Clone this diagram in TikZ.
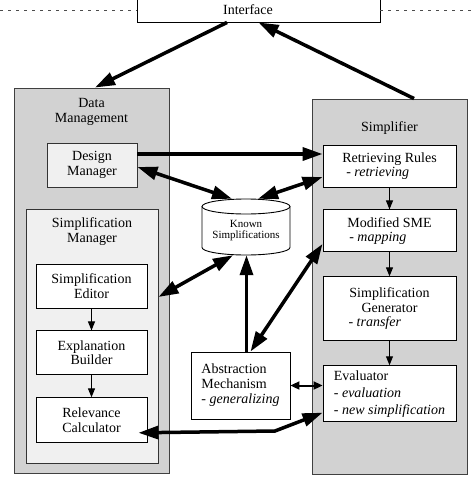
\documentclass[tikz,border=0pt]{standalone}
\usepackage{fontspec}
\setmainfont{Liberation Serif}
\usetikzlibrary{arrows.meta,positioning}

\begin{document}
\begin{tikzpicture}[x=1pt,y=-1pt,
	every node/.style={font=\fontsize{14}{14.5}\selectfont},
	bigbox/.style={draw=black!75,fill=gray!35,line width=0.9pt,inner sep=0pt},
	midbox/.style={draw=black!80,fill=gray!12,line width=0.9pt,inner sep=0pt},
	box/.style={draw,fill=white,line width=0.9pt,inner sep=0pt},
	>={Triangle[length=20pt,width=13pt]},
	bigarrow/.style={line width=3.5pt,->},
	bigboth/.style={line width=3.5pt,<->},
	midboth/.style={line width=2pt,{Triangle[length=9pt,width=8pt]}-{Triangle[length=9pt,width=8pt]}},
	thinarrow/.style={line width=1pt,-{Triangle[length=9pt,width=7pt]}}]
				\clip (0,0) rectangle (474,496);
				\fill[white] (0,0) rectangle (474,496);
				
				% interface strip
				\node (iface) [box, minimum width=243pt, minimum height=24pt] at (258.5,10) {};
				\draw[dash pattern=on 3pt off 5pt, line width=0.8pt, black!70] (0,10) -- (iface.west);
				\draw[dash pattern=on 3pt off 5pt, line width=0.8pt, black!70] (iface.east) -- (474,10);
				\node (ifacetext) at ([xshift=-10.5pt]iface.center) {Interface};
				
				% data management side
				\node (dm) [bigbox, minimum width=155pt, minimum height=385pt] at (91.5,280.5) {};
				\node (dmtitle) [below=11pt of dm.north, align=center, inner sep=0pt] {Data\\Management};
				\node (design) [midbox, minimum width=90pt, minimum height=44pt, align=center] at (92,165) {Design\\Manager};
				\node (sm) [midbox, minimum width=132pt, minimum height=254pt] at (92,336) {};
				\node (smtitle) [below=9pt of sm.north, align=center, inner sep=0pt] {Simplification\\Manager};
				\node (editor) [box, minimum width=111pt, minimum height=44pt, align=center] at (91.5,286) {Simplification\\Editor};
				\node (builder) [box, minimum width=111pt, minimum height=44pt, align=center, below=22pt of editor] {Explanation\\Builder};
				\node (relev) [box, minimum width=111pt, minimum height=45pt, align=center, below=22pt of builder] {Relevance\\Calculator};
				
				% simplifier side
				\node (simp) [bigbox, minimum width=155pt, minimum height=375pt] at (389.5,286.5) {};
				\node (simptitle) [below=23pt of simp.north, inner sep=0pt] {Simplifier};
				\node (retr) [box, minimum width=133pt, minimum height=42pt, align=left] at (389.5,166) {Retrieving Rules\\\hspace*{4pt}- \emph{retrieving}};
				\node (sme) [box, minimum width=133pt, minimum height=42pt, align=left, below=22pt of retr] {Modified SME\\\hspace*{2pt}- \emph{mapping}};
				\node (gen) [box, minimum width=133pt, minimum height=64pt, align=center, below=24pt of sme] {Simplification\\Generator\\\makebox[82pt][l]{- \emph{transfer}}};
				\node (eval) [box, minimum width=133pt, minimum height=56pt, align=left, below=24pt of gen] {Evaluator\\[2.5pt]- \emph{evaluation}\\[2.5pt]- \emph{new simplification}};
				
				% store in the middle
				\draw[fill=white, line width=0.9pt] (202,206.5) -- (202,247.5) arc[start angle=180, end angle=0, x radius=44, y radius=7.5] -- (290,206.5);
				\draw[fill=white, line width=0.9pt] (246,206.5) ellipse [x radius=44, y radius=7.5];
				\node (known) [minimum width=88pt, minimum height=56pt, inner sep=0pt, align=center, font=\fontsize{11}{11}\selectfont] at (246,227) {\rule{0pt}{15pt}Known\\Simplifications};
				\node (abstr) [box, minimum width=99pt, minimum height=67pt, align=left] at (240.5,385.5) {Abstraction\\Mechanism\\[1pt]- \emph{generalizing}};
				
				% thin arrows
				\draw[thinarrow] (editor.south) -- (builder.north);
				\draw[thinarrow] (builder.south) -- (relev.north);
				\draw[thinarrow] (retr.south) -- (sme.north);
				\draw[thinarrow] (sme.south) -- (gen.north);
				\draw[thinarrow] (gen.south) -- (eval.north);
				
				% thick arrows
				\draw[bigarrow] ([xshift=-31.5pt]iface.south) -- ([xshift=3.5pt]dm.north);
				\draw[bigarrow] ([xshift=24.5pt]simp.north) -- (iface.south);
				\draw[bigarrow] ([yshift=11pt]design.east) -- ([yshift=11pt]design.east -| retr.west);
				\draw[bigboth] ([yshift=-2pt]design.east) -- ([xshift=-14pt]known.north);
				\draw[bigboth] ([xshift=12pt]known.north) -- ([yshift=-11pt]retr.west);
				\draw[bigboth] ([yshift=39pt]sm.east) -- ([xshift=-13pt]known.south);
				\draw[bigarrow] ([xshift=6pt]abstr.north) -- ([xshift=6pt]abstr.north |- known.south);
				\draw[bigboth] ([xshift=10pt]abstr.north) -- ([yshift=-13pt]sme.west);
				\draw[midboth] (abstr.east) -- (abstr.east -| eval.west);
				\coordinate (bend) at (275,431);
				\draw[bigboth] ([xshift=-9pt,yshift=-12.5pt]relev.east) -- (bend) -- ([yshift=-19pt]eval.west);
\end{tikzpicture}
\end{document}
